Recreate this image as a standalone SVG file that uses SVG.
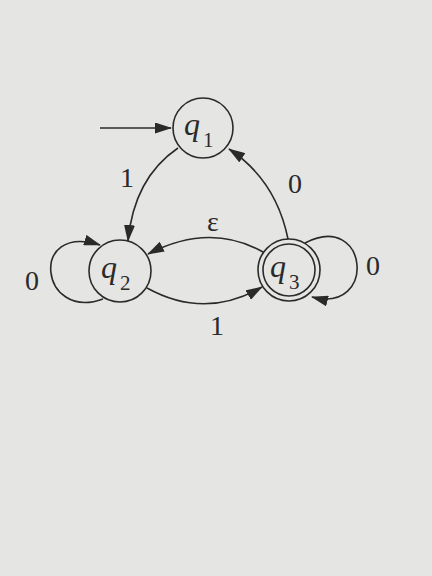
<svg xmlns="http://www.w3.org/2000/svg" width="432" height="576" viewBox="0 0 432 576">
  <defs>
    <marker id="arr" markerWidth="17" markerHeight="11" refX="16" refY="5.5" orient="auto" markerUnits="userSpaceOnUse">
      <path d="M0,0 L17,5.5 L0,11 Z" fill="#2a2a2a"/>
    </marker>
  </defs>
  <style>
    .st { fill: none; stroke: #2a2a2a; stroke-width: 1.6; }
    .edge { fill: none; stroke: #2a2a2a; stroke-width: 1.6; marker-end: url(#arr); }
    .q { font-family: "Liberation Serif", serif; font-style: italic; font-size: 32px; fill: #2a2a2a; }
    .sub { font-family: "Liberation Serif", serif; font-size: 21px; fill: #2a2a2a; }
    .lbl { font-family: "Liberation Serif", serif; font-size: 28px; fill: #2a2a2a; text-anchor: middle; }
  </style>
  <rect width="432" height="576" fill="#e5e5e3"/>
  <g id="connectors">
    <path class="edge" d="M100,128 L171,128"/>
    <path class="edge" d="M178,148 Q134,178 128,241"/>
    <path class="edge" d="M288,239 Q276,180 229,149"/>
    <path class="edge" d="M263,252 Q210,222 148,254"/>
    <path class="edge" d="M147,288 Q205,320 262,287"/>
    <path class="edge" d="M103,299 C40,322 28,222 100,245"/>
    <path class="edge" d="M305,243 C368,210 378,314 312,297"/>
    <text class="lbl" x="127" y="187">1</text>
    <text class="lbl" x="295" y="193">0</text>
    <text class="lbl" x="213" y="231">ε</text>
    <text class="lbl" x="217" y="335">1</text>
    <text class="lbl" x="32" y="290">0</text>
    <text class="lbl" x="373" y="275">0</text>
  </g>
  <g id="q1">
    <circle class="st" cx="203" cy="128" r="30"/>
    <text class="q" x="184" y="135">q</text><text class="sub" x="203" y="147">1</text>
  </g>
  <g id="q2">
    <circle class="st" cx="120" cy="271" r="31"/>
    <text class="q" x="101" y="278">q</text><text class="sub" x="120" y="290">2</text>
  </g>
  <g id="q3">
    <circle class="st" cx="289" cy="270" r="31"/>
    <circle class="st" cx="289" cy="270" r="26"/>
    <text class="q" x="270" y="277">q</text><text class="sub" x="289" y="289">3</text>
  </g>
</svg>
